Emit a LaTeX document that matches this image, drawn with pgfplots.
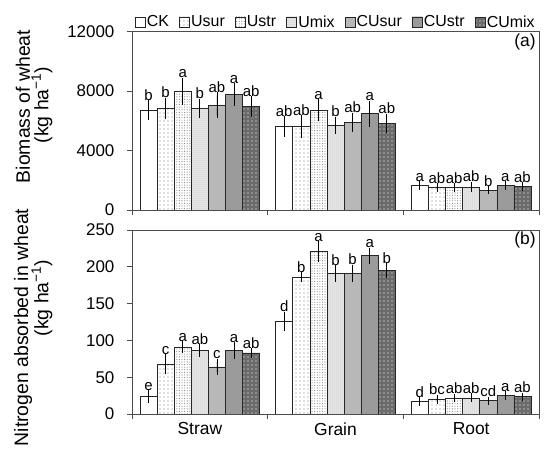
\documentclass[border=0pt]{standalone}
\usepackage{fontspec}
\setmainfont{Liberation Sans}
\usepackage{pgfplots}
\pgfplotsset{compat=1.18}
\usepackage{pgfplotstable}
\usetikzlibrary{patterns.meta}

\pgfplotstableread{
x CK CKe CKl Usur Usure Usurl Ustr Ustre Ustrl Umix Umixe Umixl CUsur CUsure CUsurl CUstr CUstre CUstrl CUmix CUmixe CUmixl
0 6700 480 b  6820 520 b  7980 720 a  6820 450 b  7040 670 ab 7780 560 a 6970 490 ab
1 5630 490 ab 5630 560 ab 6700 540 a  5700 360 b  5880 450 ab 6480 670 a 5810 450 ab
2 1650 90  a  1500 100 ab 1500 80  ab 1540 150 ab 1340 60  b  1650 80  a 1560 110 ab
}\bio

\pgfplotstableread{
x CK CKe CKl Usur Usure Usurl Ustr Ustre Ustrl Umix Umixe Umixl CUsur CUsure CUsurl CUstr CUstre CUstrl CUmix CUmixe CUmixl
0 24  4.5 e 68  9.5 c  91  4   a  86  4.5 ab 64  6.8 c  86  7.2 a 83  2.3 ab
1 126 9   d 186 2.3 b  221 10  a  191 7.2 b  191 7.9 b  215 6.8 a 195 5.7 b
2 17  1.5 d 20  2   bc 22  1.5 ab 22  2   ab 18  1.5 cd 25  2   a 23.5 1.5 ab
}\nit

\pgfplotsset{
  sCK/.style={draw=black!85, fill=white},
  sUsur/.style={draw=black!85, fill=white, postaction={pattern color=black!50, pattern={Dots[distance=4bp,radius=0.6bp]}}},
  sUstr/.style={draw=black!85, fill=white, postaction={pattern color=black!50, pattern={Dots[distance=2.6bp,radius=0.55bp]}}},
  sUmix/.style={draw=black!85, fill=black!8, postaction={pattern color=black!35, pattern={Dots[distance=2bp,radius=0.5bp]}}},
  sCUsur/.style={draw=black!85, fill=black!28},
  sCUstr/.style={draw=black!85, fill=black!32, postaction={pattern color=black!62, pattern={Dots[distance=2bp,radius=0.55bp]}}},
  sCUmix/.style={draw=black!85, fill=black!58, postaction={pattern color=white, pattern={Dots[distance=4bp,radius=0.6bp]}}},
  panel/.style={
    anchor=south west, scale only axis, width=407bp,
    xmin=-0.5, xmax=2.5, ymin=0,
    ybar=0pt, bar width=0.126,
    xtick={0,1,2},
    minor xtick={-0.5,0.5,1.5,2.5},
    major x tick style={draw=none},
    xtick pos=bottom, ytick pos=left,
    tick align=outside, major tick length=5bp, minor tick length=5bp,
    scaled y ticks=false,
    axis line style={black!70, line width=0.8bp},
    every tick/.style={black!70, line width=0.8bp},
    /pgf/number format/assume math mode=true,
    /pgf/number format/1000 sep={},
    yticklabel style={font=\fontsize{17}{19}\selectfont, xshift=-9bp},
    xticklabel style={font=\fontsize{17.5}{20}\selectfont},
    point meta=explicit symbolic,
    nodes near coords,
    error bars/y dir=both, error bars/y explicit,
    error bars/error bar style={black, line width=0.8bp},
    error bars/error mark options={black, line width=0.8bp, mark size=3bp},
    line width=0.6bp,
    legend image code/.code={\draw[#1, line width=0.6bp] (0bp,-5bp) rectangle (10bp,5bp);},
  },
}

\newcommand\bars[3]{%
  \addplot[#3, visualization depends on={\thisrow{#2e}\as\err}]
    table[x=x, y=#2, y error=#2e, meta=#2l]{#1};
}

\begin{document}
\begin{tikzpicture}
\useasboundingbox (0,0) rectangle (550bp,453bp);

\begin{axis}[panel,
  at={(132bp,243bp)}, height=178.5bp,
  ymax=12000, ytick={0,4000,8000,12000},
  xticklabels={},
  nodes near coords style={font=\fontsize{15}{17}\selectfont, inner sep=2.5bp, anchor=south, yshift={\err*0.014875}},
  legend columns=7,
  legend style={at={(0.5,1)}, anchor=center, yshift=9.5bp, draw=none, fill=none,
    font=\fontsize{16}{18}\selectfont, inner sep=0pt,
    /tikz/every even column/.append style={column sep=8.5bp},
    nodes={inner xsep=1.5bp, inner ysep=0pt}},
]
\bars{\bio}{CK}{sCK}
\bars{\bio}{Usur}{sUsur}
\bars{\bio}{Ustr}{sUstr}
\bars{\bio}{Umix}{sUmix}
\bars{\bio}{CUsur}{sCUsur}
\bars{\bio}{CUstr}{sCUstr}
\bars{\bio}{CUmix}{sCUmix}
\legend{CK,Usur,Ustr,Umix,CUsur,CUstr,CUmix}
\node[anchor=north east, inner sep=0pt, font=\fontsize{17.5}{20}\selectfont] at (rel axis cs:1,1) [xshift=-3bp, yshift=-2bp] {(a)};
\end{axis}

\begin{axis}[panel,
  at={(132bp,39bp)}, height=184bp,
  ymax=250, ytick={0,50,100,150,200,250},
  xticklabels={Straw,Grain,Root},
  nodes near coords style={font=\fontsize{15}{17}\selectfont, inner sep=2.5bp, anchor=south, yshift={\err*0.736}},
]
\bars{\nit}{CK}{sCK}
\bars{\nit}{Usur}{sUsur}
\bars{\nit}{Ustr}{sUstr}
\bars{\nit}{Umix}{sUmix}
\bars{\nit}{CUsur}{sCUsur}
\bars{\nit}{CUstr}{sCUstr}
\bars{\nit}{CUmix}{sCUmix}
\node[anchor=north east, inner sep=0pt, font=\fontsize{17.5}{20}\selectfont] at (rel axis cs:1,1) [xshift=-3bp, yshift=-2bp] {(b)};
\end{axis}

\node[rotate=90, font=\fontsize{19.5}{22}\selectfont] at (23bp,346.5bp) {Biomass of wheat};
\node[rotate=90, font=\fontsize{19.5}{22}\selectfont] at (42bp,348bp) {(kg ha\textsuperscript{−1})};
\node[rotate=90, font=\fontsize{19.5}{22}\selectfont] at (23bp,125.5bp) {Nitrogen absorbed in wheat};
\node[rotate=90, font=\fontsize{19.5}{22}\selectfont] at (42bp,155bp) {(kg ha\textsuperscript{−1})};
\end{tikzpicture}
\end{document}
